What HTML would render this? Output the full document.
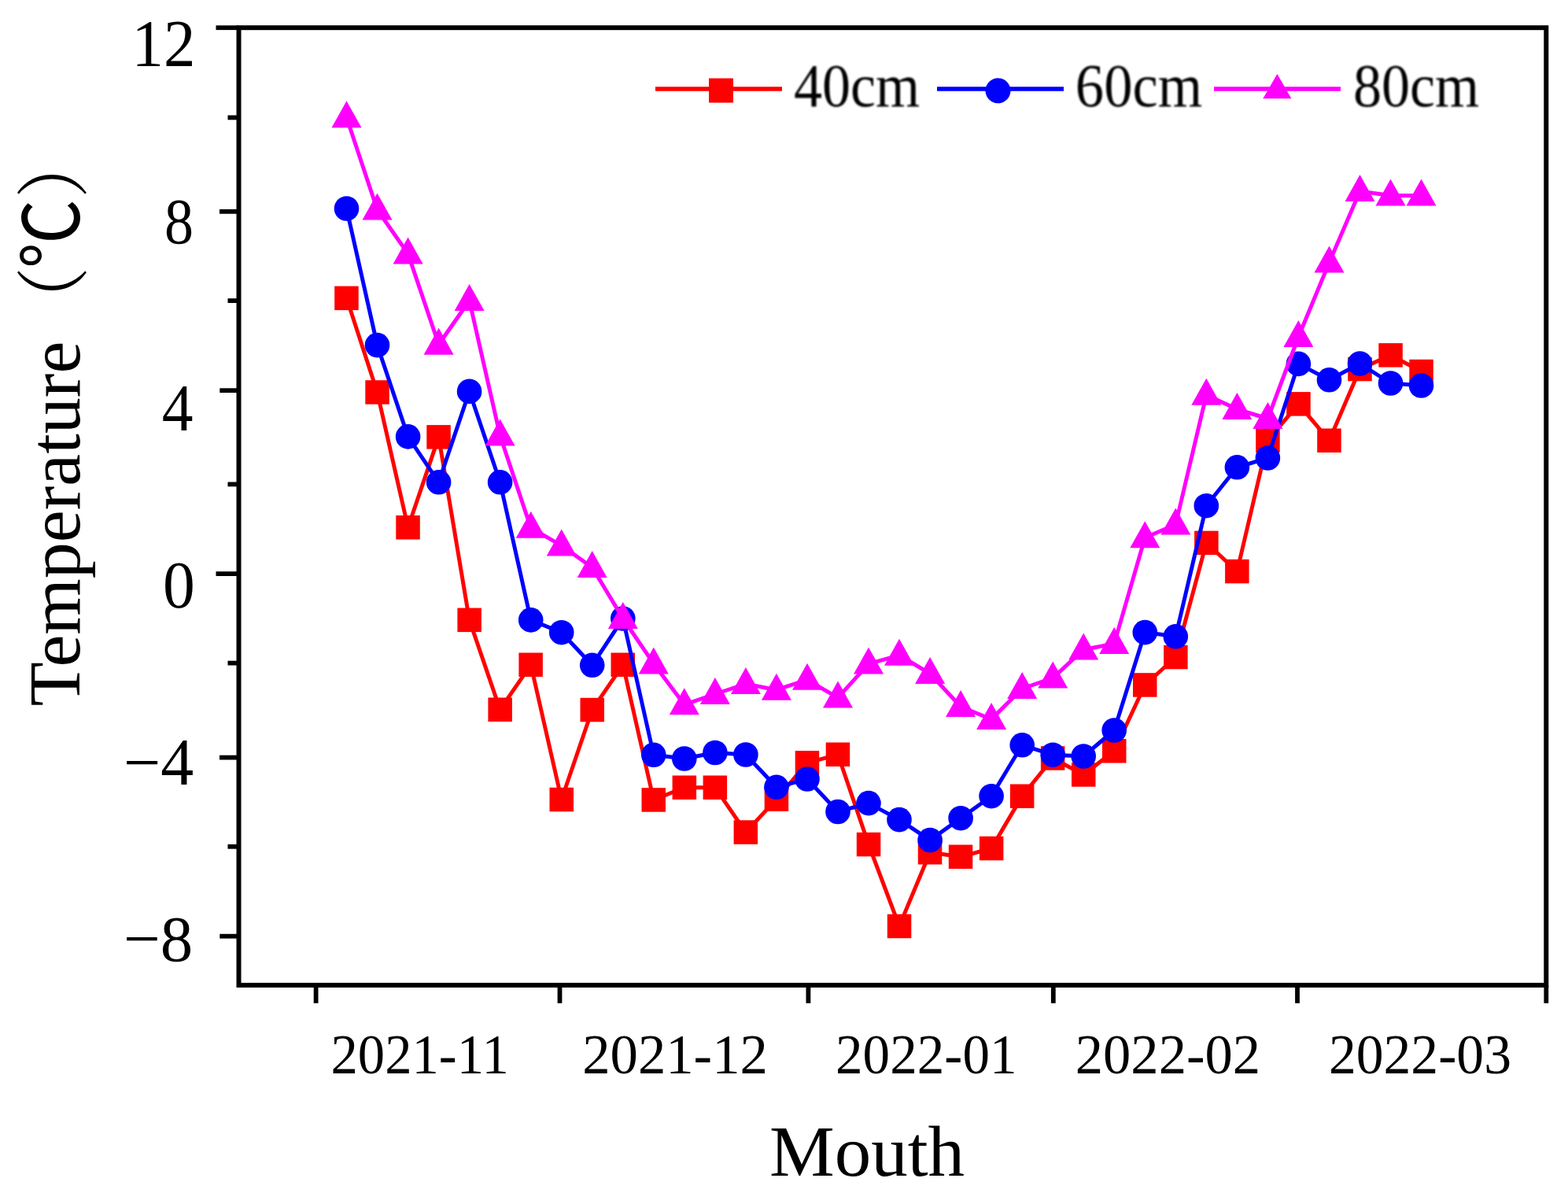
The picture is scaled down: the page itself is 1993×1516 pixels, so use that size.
<!DOCTYPE html>
<html><head><meta charset="utf-8"><title>Temperature chart</title>
<style>html,body{margin:0;padding:0;background:#fff;width:1993px;height:1516px;overflow:hidden}svg{display:block;filter:blur(0.6px)}</style>
</head><body>
<svg width="1993" height="1516" viewBox="0 0 1993 1516">
<rect width="1993" height="1516" fill="#fff"/>
<polyline points="440.5,378.8 479.5,498.5 518.6,670.2 557.6,555.4 596.6,787.9 635.6,901.7 674.7,844.8 713.7,1016 752.7,902 791.8,844.8 830.8,1016.5 869.8,1000.7 908.9,1000.7 947.9,1057.6 986.9,1015.6 1026,969.4 1065,958.8 1104,1073 1143,1176.9 1182.1,1083.2 1221.1,1088.8 1260.1,1078 1299.2,1011.7 1338.2,963.5 1377.2,984.5 1416.2,954.2 1455.3,870.5 1494.3,835 1533.3,689.9 1572.4,726 1611.4,559.7 1650.4,513.4 1689.5,559.7 1728.5,469 1767.5,451.4 1806.5,472" fill="none" stroke="#ff0000" stroke-width="5.0" stroke-linejoin="round"/>
<g fill="#ff0000"><rect x="425.2" y="363.6" width="30.5" height="30.5"/><rect x="464.3" y="483.2" width="30.5" height="30.5"/><rect x="503.3" y="655" width="30.5" height="30.5"/><rect x="542.3" y="540.1" width="30.5" height="30.5"/><rect x="581.4" y="772.6" width="30.5" height="30.5"/><rect x="620.4" y="886.5" width="30.5" height="30.5"/><rect x="659.4" y="829.5" width="30.5" height="30.5"/><rect x="698.5" y="1000.8" width="30.5" height="30.5"/><rect x="737.5" y="886.8" width="30.5" height="30.5"/><rect x="776.5" y="829.5" width="30.5" height="30.5"/><rect x="815.5" y="1001.2" width="30.5" height="30.5"/><rect x="854.6" y="985.5" width="30.5" height="30.5"/><rect x="893.6" y="985.5" width="30.5" height="30.5"/><rect x="932.6" y="1042.3" width="30.5" height="30.5"/><rect x="971.7" y="1000.4" width="30.5" height="30.5"/><rect x="1010.7" y="954.1" width="30.5" height="30.5"/><rect x="1049.7" y="943.5" width="30.5" height="30.5"/><rect x="1088.8" y="1057.8" width="30.5" height="30.5"/><rect x="1127.8" y="1161.7" width="30.5" height="30.5"/><rect x="1166.8" y="1068" width="30.5" height="30.5"/><rect x="1205.8" y="1073.5" width="30.5" height="30.5"/><rect x="1244.9" y="1062.8" width="30.5" height="30.5"/><rect x="1283.9" y="996.5" width="30.5" height="30.5"/><rect x="1322.9" y="948.2" width="30.5" height="30.5"/><rect x="1362" y="969.2" width="30.5" height="30.5"/><rect x="1401" y="939" width="30.5" height="30.5"/><rect x="1440" y="855.2" width="30.5" height="30.5"/><rect x="1479.1" y="819.8" width="30.5" height="30.5"/><rect x="1518.1" y="674.6" width="30.5" height="30.5"/><rect x="1557.1" y="710.8" width="30.5" height="30.5"/><rect x="1596.2" y="544.5" width="30.5" height="30.5"/><rect x="1635.2" y="498.1" width="30.5" height="30.5"/><rect x="1674.2" y="544.5" width="30.5" height="30.5"/><rect x="1713.2" y="453.8" width="30.5" height="30.5"/><rect x="1752.3" y="436.1" width="30.5" height="30.5"/><rect x="1791.3" y="456.8" width="30.5" height="30.5"/></g>
<polyline points="440.5,265 479.5,438.6 518.6,554.9 557.6,612.8 596.6,497.4 635.6,612.8 674.7,787.9 713.7,803.7 752.7,845.3 791.8,786 830.8,959.3 869.8,964 908.9,956.5 947.9,959 986.9,1000.3 1026,990 1065,1031.5 1104,1020.6 1143,1041.6 1182.1,1067.6 1221.1,1039.7 1260.1,1011.7 1299.2,946.8 1338.2,959.2 1377.2,961 1416.2,928 1455.3,803.6 1494.3,808.8 1533.3,642.7 1572.4,593.8 1611.4,582 1650.4,462.4 1689.5,482.8 1728.5,462 1767.5,487 1806.5,490" fill="none" stroke="#0000ff" stroke-width="5.0" stroke-linejoin="round"/>
<g fill="#0000ff"><circle cx="440.5" cy="265" r="15.8"/><circle cx="479.5" cy="438.6" r="15.8"/><circle cx="518.6" cy="554.9" r="15.8"/><circle cx="557.6" cy="612.8" r="15.8"/><circle cx="596.6" cy="497.4" r="15.8"/><circle cx="635.6" cy="612.8" r="15.8"/><circle cx="674.7" cy="787.9" r="15.8"/><circle cx="713.7" cy="803.7" r="15.8"/><circle cx="752.7" cy="845.3" r="15.8"/><circle cx="791.8" cy="786" r="15.8"/><circle cx="830.8" cy="959.3" r="15.8"/><circle cx="869.8" cy="964" r="15.8"/><circle cx="908.9" cy="956.5" r="15.8"/><circle cx="947.9" cy="959" r="15.8"/><circle cx="986.9" cy="1000.3" r="15.8"/><circle cx="1026" cy="990" r="15.8"/><circle cx="1065" cy="1031.5" r="15.8"/><circle cx="1104" cy="1020.6" r="15.8"/><circle cx="1143" cy="1041.6" r="15.8"/><circle cx="1182.1" cy="1067.6" r="15.8"/><circle cx="1221.1" cy="1039.7" r="15.8"/><circle cx="1260.1" cy="1011.7" r="15.8"/><circle cx="1299.2" cy="946.8" r="15.8"/><circle cx="1338.2" cy="959.2" r="15.8"/><circle cx="1377.2" cy="961" r="15.8"/><circle cx="1416.2" cy="928" r="15.8"/><circle cx="1455.3" cy="803.6" r="15.8"/><circle cx="1494.3" cy="808.8" r="15.8"/><circle cx="1533.3" cy="642.7" r="15.8"/><circle cx="1572.4" cy="593.8" r="15.8"/><circle cx="1611.4" cy="582" r="15.8"/><circle cx="1650.4" cy="462.4" r="15.8"/><circle cx="1689.5" cy="482.8" r="15.8"/><circle cx="1728.5" cy="462" r="15.8"/><circle cx="1767.5" cy="487" r="15.8"/><circle cx="1806.5" cy="490" r="15.8"/></g>
<polyline points="440.5,149.2 479.5,266.5 518.6,322.4 557.6,437.7 596.6,382 635.6,553.5 674.7,670.7 713.7,693.4 752.7,721 791.8,786 830.8,843.4 869.8,895.3 908.9,882 947.9,869 986.9,876.7 1026,863.8 1065,886.6 1104,843.6 1143,832.7 1182.1,856 1221.1,898 1260.1,914 1299.2,875 1338.2,861.6 1377.2,825.5 1416.2,818 1455.3,683.2 1494.3,666.5 1533.3,501.8 1572.4,520 1611.4,532 1650.4,428 1689.5,333.6 1728.5,243 1767.5,248.5 1806.5,248.5" fill="none" stroke="#ff00ff" stroke-width="5.0" stroke-linejoin="round"/>
<g fill="#ff00ff"><polygon points="440.5,128.2 421.5,162.2 459.5,162.2"/><polygon points="479.5,245.5 460.5,279.5 498.5,279.5"/><polygon points="518.6,301.4 499.6,335.4 537.6,335.4"/><polygon points="557.6,416.7 538.6,450.7 576.6,450.7"/><polygon points="596.6,361 577.6,395 615.6,395"/><polygon points="635.6,532.5 616.6,566.5 654.6,566.5"/><polygon points="674.7,649.7 655.7,683.7 693.7,683.7"/><polygon points="713.7,672.4 694.7,706.4 732.7,706.4"/><polygon points="752.7,700 733.7,734 771.7,734"/><polygon points="791.8,765 772.8,799 810.8,799"/><polygon points="830.8,822.4 811.8,856.4 849.8,856.4"/><polygon points="869.8,874.3 850.8,908.3 888.8,908.3"/><polygon points="908.9,861 889.9,895 927.9,895"/><polygon points="947.9,848 928.9,882 966.9,882"/><polygon points="986.9,855.7 967.9,889.7 1005.9,889.7"/><polygon points="1026,842.8 1007,876.8 1045,876.8"/><polygon points="1065,865.6 1046,899.6 1084,899.6"/><polygon points="1104,822.6 1085,856.6 1123,856.6"/><polygon points="1143,811.7 1124,845.7 1162,845.7"/><polygon points="1182.1,835 1163.1,869 1201.1,869"/><polygon points="1221.1,877 1202.1,911 1240.1,911"/><polygon points="1260.1,893 1241.1,927 1279.1,927"/><polygon points="1299.2,854 1280.2,888 1318.2,888"/><polygon points="1338.2,840.6 1319.2,874.6 1357.2,874.6"/><polygon points="1377.2,804.5 1358.2,838.5 1396.2,838.5"/><polygon points="1416.2,797 1397.2,831 1435.2,831"/><polygon points="1455.3,662.2 1436.3,696.2 1474.3,696.2"/><polygon points="1494.3,645.5 1475.3,679.5 1513.3,679.5"/><polygon points="1533.3,480.8 1514.3,514.8 1552.3,514.8"/><polygon points="1572.4,499 1553.4,533 1591.4,533"/><polygon points="1611.4,511 1592.4,545 1630.4,545"/><polygon points="1650.4,407 1631.4,441 1669.4,441"/><polygon points="1689.5,312.6 1670.5,346.6 1708.5,346.6"/><polygon points="1728.5,222 1709.5,256 1747.5,256"/><polygon points="1767.5,227.5 1748.5,261.5 1786.5,261.5"/><polygon points="1806.5,227.5 1787.5,261.5 1825.5,261.5"/></g>
<rect x="303.5" y="35.2" width="1661.8" height="1216.7" fill="none" stroke="#000" stroke-width="6"/>
<g stroke="#000" stroke-width="5.8"><line x1="274.5" y1="35.2" x2="303.5" y2="35.2"/><line x1="279" y1="268.8" x2="303.5" y2="268.8"/><line x1="279.3" y1="496.2" x2="303.5" y2="496.2"/><line x1="274.5" y1="729.1" x2="303.5" y2="729.1"/><line x1="279" y1="962.6" x2="303.5" y2="962.6"/><line x1="279.3" y1="1189.7" x2="303.5" y2="1189.7"/><line x1="289.5" y1="149.4" x2="303.5" y2="149.4"/><line x1="289.5" y1="382.1" x2="303.5" y2="382.1"/><line x1="289.5" y1="615.4" x2="303.5" y2="615.4"/><line x1="289.5" y1="842.6" x2="303.5" y2="842.6"/><line x1="289.5" y1="1075.8" x2="303.5" y2="1075.8"/><line x1="401.6" y1="1251.9" x2="401.6" y2="1274.8"/><line x1="711.5" y1="1251.9" x2="711.5" y2="1274.8"/><line x1="1027.4" y1="1251.9" x2="1027.4" y2="1274.8"/><line x1="1338.8" y1="1251.9" x2="1338.8" y2="1274.8"/><line x1="1649" y1="1251.9" x2="1649" y2="1274.8"/><line x1="1965.3" y1="1251.9" x2="1965.3" y2="1274.8"/></g>
<g fill="#000"><text transform="matrix(0.9625 0 0 0.9982 167.5625 84.1)" font-family="Liberation Serif, serif" font-size="84">12</text><text transform="matrix(0.8806 0 0 0.9912 208.9583 308.7088)" font-family="Liberation Serif, serif" font-size="84">8</text><text transform="matrix(0.9462 0 0 1 205.8077 547.3)" font-family="Liberation Serif, serif" font-size="84">4</text><text transform="matrix(0.9722 0 0 0.9947 207.0833 771.7053)" font-family="Liberation Serif, serif" font-size="84">0</text><text transform="matrix(0.9988 0 0 0.9964 156.9048 996.5)" font-family="Liberation Serif, serif" font-size="84">−4</text><text transform="matrix(0.9878 0 0 0.993 156.9488 1221.307)" font-family="Liberation Serif, serif" font-size="84">−8</text><text transform="matrix(0.9813 0 0 1.0348 420.4562 1364)" font-family="Liberation Serif, serif" font-size="70">2021-11</text><text transform="matrix(1.0102 0 0 1.0326 740.1695 1364)" font-family="Liberation Serif, serif" font-size="70">2021-12</text><text transform="matrix(0.9881 0 0 1.0326 1062.0358 1364)" font-family="Liberation Serif, serif" font-size="70">2022-01</text><text transform="matrix(1.0084 0 0 1.0326 1366.7748 1364)" font-family="Liberation Serif, serif" font-size="70">2022-02</text><text transform="matrix(0.9947 0 0 1.0326 1688.9159 1364)" font-family="Liberation Serif, serif" font-size="70">2022-03</text><text transform="matrix(0.9791 0 0 0.9627 977.9627 1493.5373)" font-family="Liberation Serif, serif" font-size="95">Mouth</text><text transform="matrix(0 -0.9896 0.9988 0 101.0247 897.3793)" font-family="Liberation Serif, serif" font-size="93">Temperature</text><text transform="matrix(0 -0.9074 0.9989 0 102.0091 424.4519)" font-family="Noto Serif CJK SC, serif" font-size="94">（</text><text transform="matrix(0 -0.9198 1.0133 0 100.0733 341.1988)" font-family="Noto Sans CJK SC, sans-serif" font-size="96">℃</text><text transform="matrix(0 -0.9074 0.9989 0 102.0091 251.8444)" font-family="Noto Serif CJK SC, serif" font-size="94">）</text></g>
<line x1="833" y1="113" x2="994" y2="113" stroke="#ff0000" stroke-width="5.5"/><rect x="901" y="99.5" width="31" height="31" fill="#ff0000"/><line x1="1191" y1="113" x2="1352" y2="113" stroke="#0000ff" stroke-width="5.5"/><circle cx="1268.5" cy="115.3" r="16" fill="#0000ff"/><line x1="1543" y1="113" x2="1704" y2="113" stroke="#ff00ff" stroke-width="5.5"/><polygon points="1623.4,94.1 1605.3,125.3 1641.4,125.3" fill="#ff00ff"/>
<filter id="lb" x="-5%" y="-10%" width="110%" height="120%"><feGaussianBlur stdDeviation="0.8"/></filter>
<g fill="#000" filter="url(#lb)"><text transform="matrix(0.9491 0 0 1.0275 1008.9509 135.3725)" font-family="Liberation Serif, serif" font-size="76">40cm</text><text transform="matrix(0.9558 0 0 1.0255 1366.8327 135.2745)" font-family="Liberation Serif, serif" font-size="76">60cm</text><text transform="matrix(0.9491 0 0 1.0255 1719.9527 135.2745)" font-family="Liberation Serif, serif" font-size="76">80cm</text></g>
</svg>
</body></html>
